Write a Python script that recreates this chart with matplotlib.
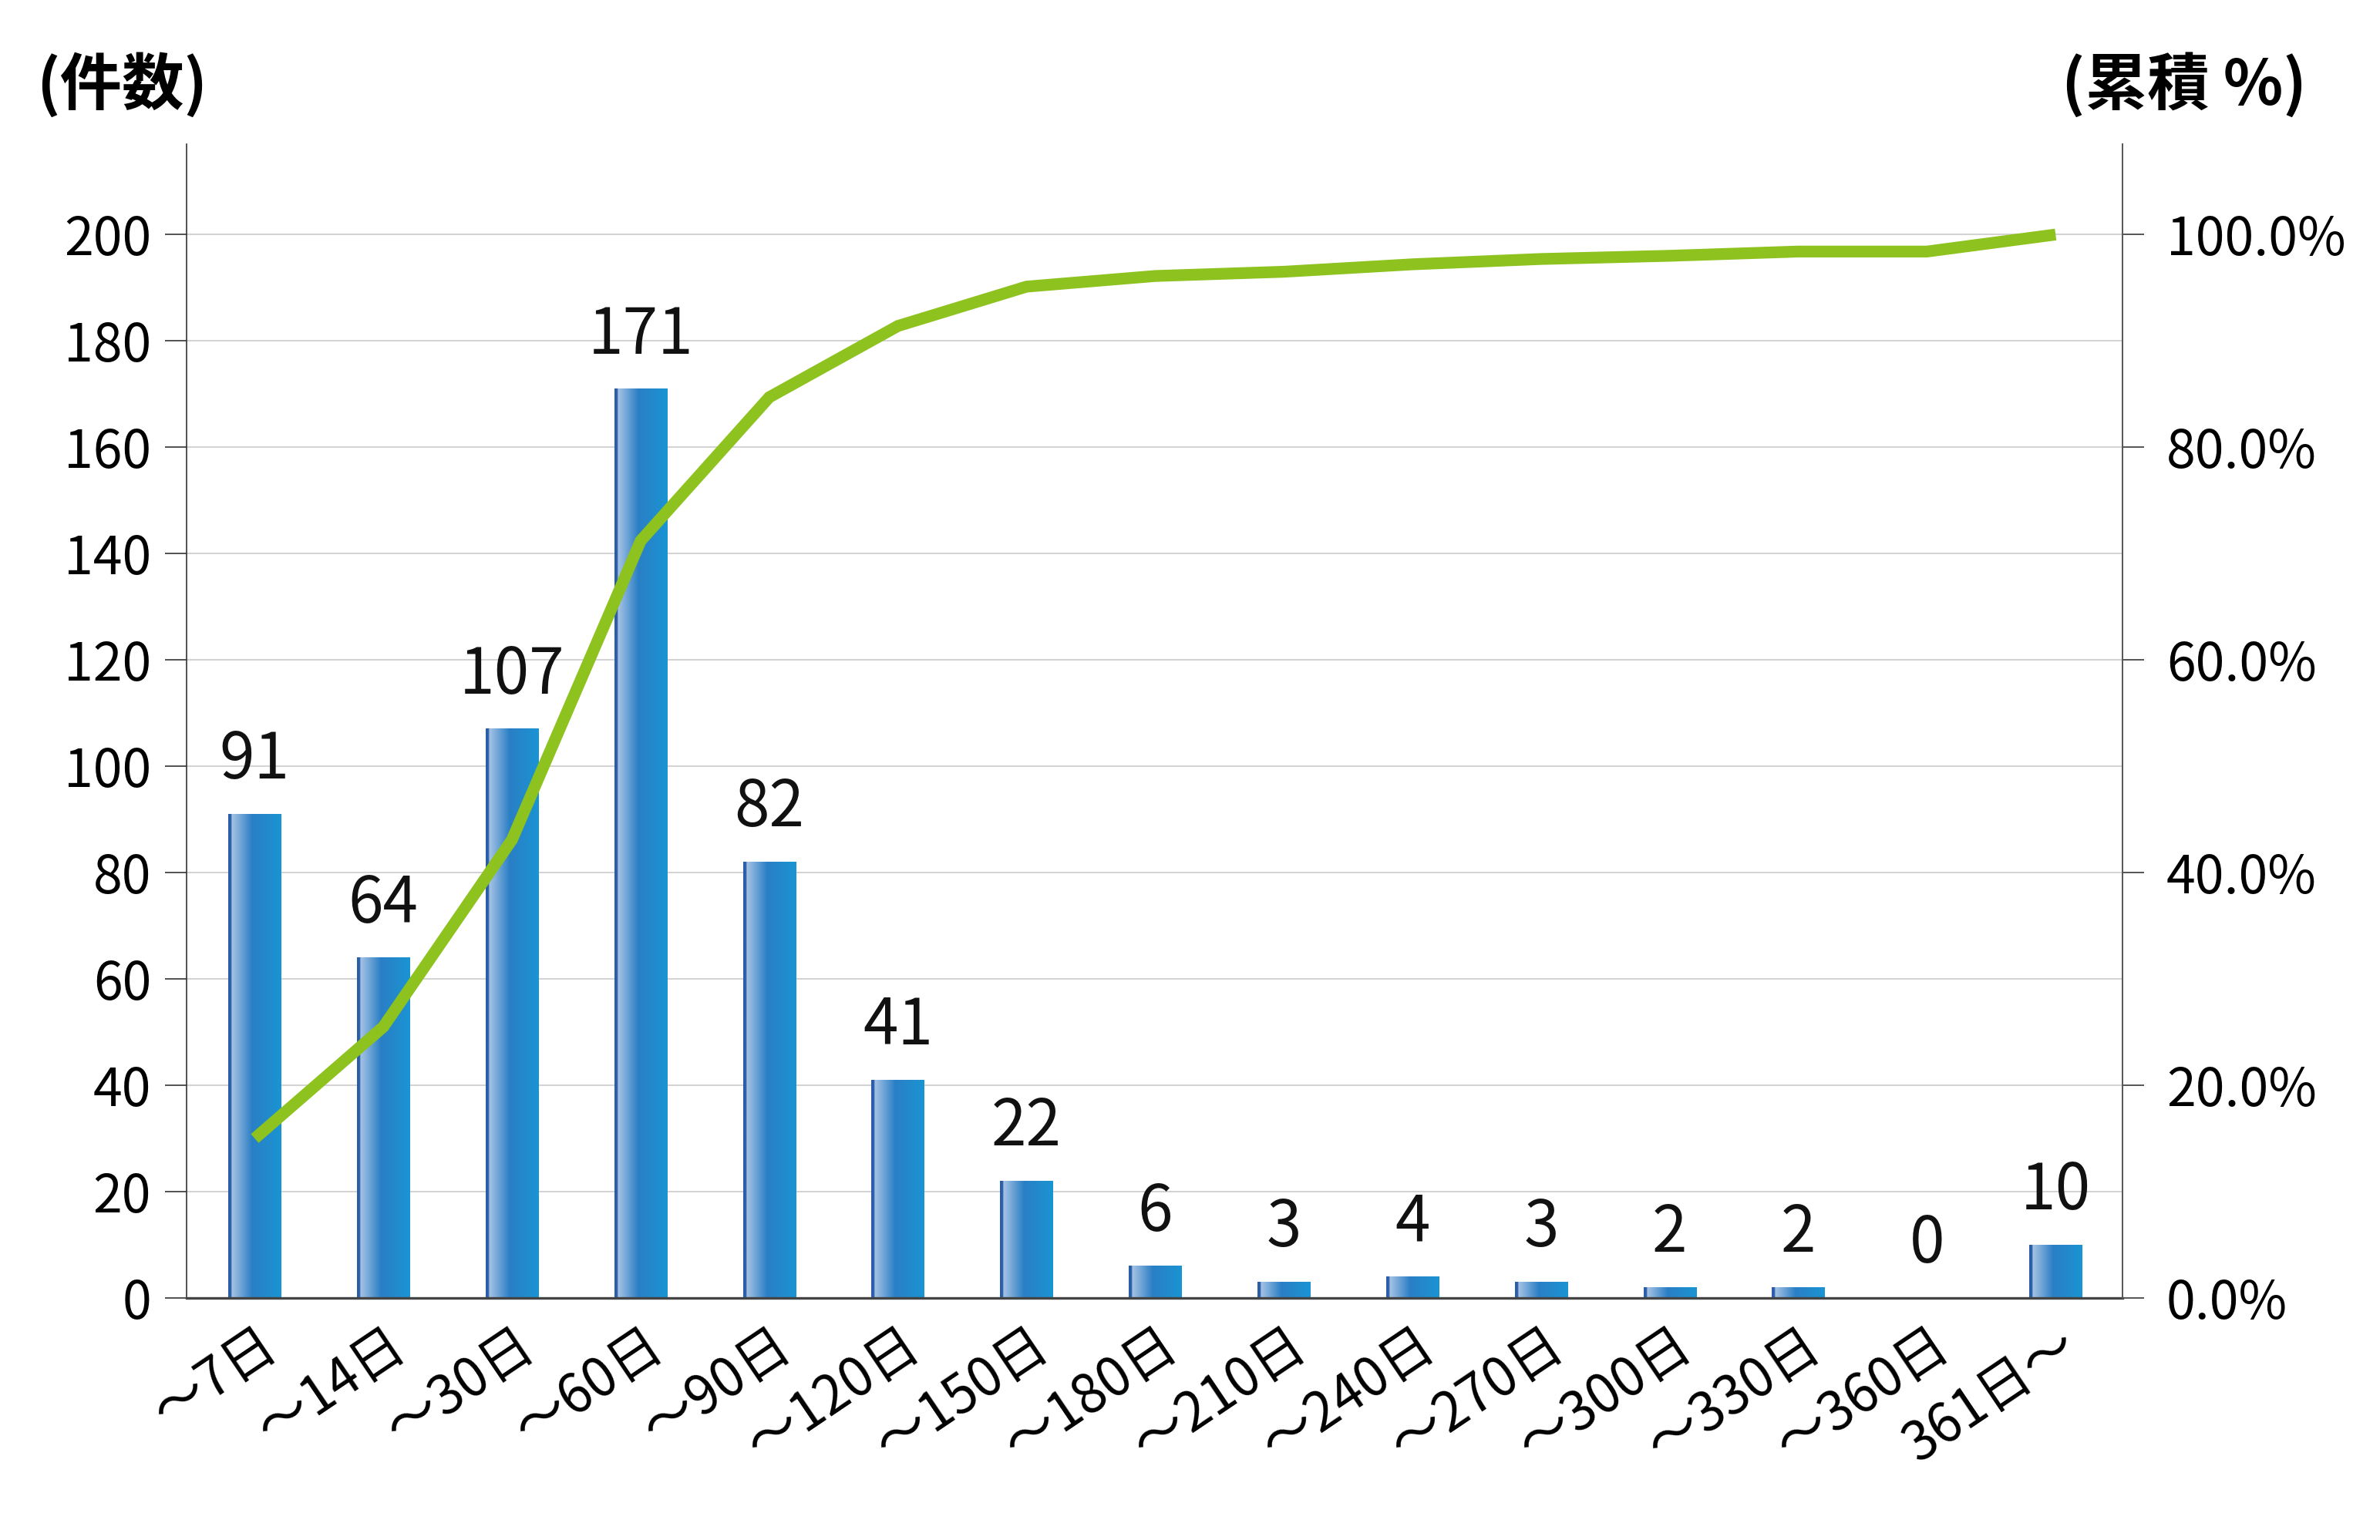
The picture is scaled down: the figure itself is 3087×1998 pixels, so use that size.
import numpy as np
import matplotlib
matplotlib.use("Agg")
import matplotlib.pyplot as plt
from matplotlib.colors import LinearSegmentedColormap
from matplotlib.transforms import ScaledTranslation

plt.rcParams['font.family'] = ['Noto Sans CJK JP', 'DejaVu Sans']

categories = ["～7日", "～14日", "～30日", "～60日", "～90日", "～120日", "～150日",
              "～180日", "～210日", "～240日", "～270日", "～300日", "～330日",
              "～360日", "361日～"]
counts = [91, 64, 107, 171, 82, 41, 22, 6, 3, 4, 3, 2, 2, 0, 10]
cumulative_pct = [15.0, 25.5, 43.1, 71.2, 84.7, 91.4, 95.1, 96.1, 96.5, 97.2,
                  97.7, 98.0, 98.4, 98.4, 100.0]
left_ticks = [0, 20, 40, 60, 80, 100, 120, 140, 160, 180, 200]
right_ticks = [0, 20, 40, 60, 80, 100]
right_tick_labels = ["0.0%", "20.0%", "40.0%", "60.0%", "80.0%", "100.0%"]

W, H, DPI = 3087, 1998, 100
fig = plt.figure(figsize=(W / DPI, H / DPI), dpi=DPI)
ax = fig.add_axes([242 / W, 1 - 1684 / H, (2753 - 242) / W, (1684 - 187) / H])
ax2 = ax.twinx()

x = np.arange(len(categories))
bar_w = 0.41
bars = ax.bar(x, counts, width=bar_w, color='none', edgecolor='none', zorder=2)

cmap = LinearSegmentedColormap.from_list(
    "barg",
    [(0.0, '#2a5ea8'), (0.05, '#2a5ea8'), (0.07, '#a5c2e4'),
     (0.45, '#2a7fc5'), (1.0, '#1a94d3')])
grad = np.linspace(0, 1, 256).reshape(1, -1)
for rect in bars:
    h = rect.get_height()
    if h <= 0:
        continue
    x0 = rect.get_x()
    ax.imshow(grad, extent=[x0, x0 + rect.get_width(), 0, h], aspect='auto',
              cmap=cmap, interpolation='bilinear', zorder=2)

for xi, v in zip(x, counts):
    ax.annotate(str(v), xy=(xi, v), xytext=(0, 33), textcoords='offset points',
                ha='center', va='baseline', fontsize=59, color='#111111', zorder=4)

ymax = 217.0
ax.set_xlim(-0.53, len(categories) - 1 + 0.52)
ax.set_ylim(0, ymax)
ax2.set_ylim(0, ymax / 2)

ax.set_yticks(left_ticks)
ax.set_yticklabels([str(t) for t in left_ticks])
ax.yaxis.grid(True, color='#cfcfcf', linewidth=1.3, zorder=0)
ax.set_axisbelow(True)

ax.set_xticks(x)
ax.set_xticklabels(categories, rotation=34, ha='right', va='center',
                   rotation_mode='anchor', fontsize=50)
ax.tick_params(axis='x', length=0, pad=40)
offset = ScaledTranslation(22 / DPI, 0, fig.dpi_scale_trans)
for lab in ax.get_xticklabels():
    lab.set_transform(lab.get_transform() + offset)

ax.tick_params(axis='y', direction='out', length=20, width=1.2, color='#333333',
               labelsize=49, pad=13)
ax2.plot(x, cumulative_pct, color='#8dc21f', linewidth=11,
         solid_capstyle='butt', solid_joinstyle='miter', zorder=5)
ax2.set_yticks(right_ticks)
ax2.set_yticklabels(right_tick_labels)
ax2.tick_params(axis='y', direction='out', length=20, width=1.4, color='#555555',
                labelsize=49, pad=21)

for s in ['top', 'right']:
    ax.spines[s].set_visible(False)
for s in ['top', 'left', 'bottom']:
    ax2.spines[s].set_visible(False)
ax.spines['left'].set_color('#333333')
ax.spines['left'].set_linewidth(1.2)
ax.spines['bottom'].set_color('#444444')
ax.spines['bottom'].set_linewidth(2.4)
ax.spines['bottom'].set_zorder(6)
ax2.spines['right'].set_color('#555555')
ax2.spines['right'].set_linewidth(1.4)

fig.text(158 / W, 1 - 110 / H, "(件数)", ha='center', va='center',
         fontsize=58, fontweight='bold')
fig.text(2833 / W, 1 - 110 / H, "(累積 %)", ha='center', va='center',
         fontsize=58, fontweight='bold')

fig.savefig("out.png", dpi=DPI)
